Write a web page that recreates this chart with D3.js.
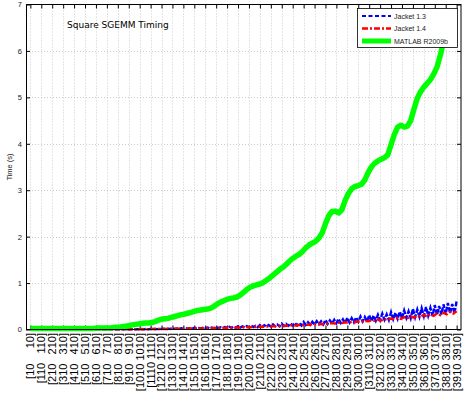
<!DOCTYPE html>
<html><head><meta charset="utf-8">
<script src="https://cdn.jsdelivr.net/npm/d3@7"></script>
<style>body{margin:0;background:#fff}svg{display:block}</style>
</head><body><svg id="c" width="474" height="393"></svg>
<script>
const tickSizes = [10,110,210,310,410,510,610,710,810,910,1010,1110,1210,1310,1410,1510,1610,1710,1810,1910,2010,2110,2210,2310,2410,2510,2610,2710,2810,2910,3010,3110,3210,3310,3410,3510,3610,3710,3810,3910];
const sampleSizes = d3.range(10, 3911, 30);   // sizes for MATLAB and Jacket 1.4 samples
const blueSizes = d3.range(10, 3911, 20);     // sizes for Jacket 1.3 samples
const yTicks = [0,1,2,3,4,5,6,7];
const seriesNames = ["Jacket 1.3","Jacket 1.4","MATLAB R2009b"];

const matlab = [0.02,0.02,0.02,0.02,0.02,0.02,0.02,0.02,0.02,0.02,
 0.02,0.02,0.02,0.02,0.02,0.02,0.02,0.02,0.02,0.02,
 0.03,0.03,0.03,0.03,0.03,0.04,0.05,0.05,0.06,0.07,
 0.08,0.10,0.11,0.12,0.13,0.14,0.14,0.15,0.17,0.20,
 0.22,0.23,0.24,0.26,0.28,0.30,0.32,0.33,0.35,0.37,
 0.39,0.41,0.42,0.43,0.44,0.46,0.50,0.55,0.59,0.62,
 0.65,0.67,0.68,0.70,0.74,0.80,0.86,0.91,0.94,0.96,
 0.98,1.01,1.06,1.11,1.17,1.23,1.29,1.34,1.40,1.47,
 1.53,1.58,1.62,1.68,1.76,1.82,1.86,1.90,1.97,2.08,
 2.28,2.45,2.54,2.55,2.51,2.58,2.78,2.93,3.03,3.08,
 3.10,3.13,3.22,3.38,3.50,3.58,3.63,3.67,3.70,3.76,
 3.98,4.20,4.36,4.40,4.36,4.38,4.50,4.75,4.98,5.12,
 5.22,5.30,5.38,5.50,5.65,5.90,6.20,6.42,6.40,6.34,
 6.32];

const jacket13 = [0.002,0.003,0.002,0.003,0.002,0.003,0.002,0.003,0.002,0.003,
 0.002,0.003,0.002,0.003,0.002,0.003,0.002,0.003,0.002,0.003,
 0.002,0.003,0.002,0.003,0.002,0.003,0.002,0.003,0.002,0.003,
 0.002,0.003,0.002,0.003,0.002,
 0.004,0.002,0.004,0.003,0.005,
 0.003,0.005,0.004,0.006,0.004,
 0.008,0.005,0.008,0.005,0.009,
 0.006,0.010,0.007,0.011,0.007,
 0.014,0.008,0.013,0.009,0.015,
 0.011,0.018,0.010,0.019,0.012,
 0.023,0.014,0.022,0.013,0.025,
 0.017,0.028,0.018,0.027,0.019,
 0.035,0.021,0.033,0.022,0.037,
 0.025,0.042,0.027,0.044,0.026,
 0.051,0.030,0.049,0.032,0.053,
 0.036,0.060,0.038,0.058,0.037,
 0.071,0.042,0.068,0.044,0.074,
 0.050,0.083,0.052,0.080,0.051,
 0.096,0.057,0.092,0.060,0.099,
 0.066,0.110,0.069,0.106,0.067,
 0.126,0.075,0.121,0.079,0.130,
 0.086,0.143,0.089,0.138,0.087,
 0.162,0.097,0.156,0.100,0.167,
 0.109,0.182,0.113,0.176,0.110,
 0.204,0.122,0.197,0.126,0.210,
 0.136,0.228,0.141,0.219,0.138,
 0.253,0.151,0.245,0.156,0.260,
 0.167,0.280,0.173,0.270,0.170,
 0.309,0.184,0.298,0.190,0.318,
 0.203,0.340,0.210,0.328,0.206,
 0.373,0.222,0.360,0.230,0.384,
 0.243,0.408,0.252,0.393,0.247,
 0.445,0.265,0.429,0.274,0.458,
 0.289,0.484,0.299,0.467,0.293,
 0.525,0.314,0.507,0.324,0.541,
 0.340,0.569,0.351,0.549,0.345,
 0.615];

const jacket14 = [0.001,0.001,0.001,0.001,0.001,0.001,0.001,0.001,0.001,0.001,0.001,0.001,
 0.002,0.002,0.002,0.002,0.002,0.002,0.002,0.002,0.002,0.003,0.003,0.003,
 0.003,0.003,0.003,0.004,0.004,0.004,0.005,0.005,0.006,0.006,
 0.007,0.007,0.008,0.009,0.009,0.010,0.011,0.012,0.013,0.014,
 0.015,0.016,0.017,0.018,0.019,0.020,0.021,0.023,0.024,0.025,
 0.027,0.028,0.030,0.031,0.033,0.035,0.037,0.038,0.040,0.042,
 0.044,0.047,0.049,0.051,0.053,0.056,0.058,0.061,0.063,0.066,
 0.069,0.071,0.074,0.077,0.080,0.083,0.090,0.086,0.096,0.093,
 0.104,0.100,0.112,0.107,0.119,0.115,0.128,0.122,0.137,0.131,
 0.146,0.140,0.155,0.148,0.165,0.158,0.176,0.167,0.187,0.178,
 0.198,0.187,0.212,0.197,0.224,0.207,0.238,0.219,0.252,0.230,
 0.266,0.243,0.281,0.255,0.297,0.268,0.312,0.281,0.327,0.296,
 0.343,0.310,0.360,0.325,0.378,0.342,0.392];

const svg = d3.select("#c");
const L = 26, R = 461, T = 4.5, B = 329.5;
const x = d3.scaleLinear().domain([-3, 395]).range([L, R]);
const y = d3.scaleLinear().domain([0, 7]).range([B, T]);
const tickIdx = tickSizes.map(s => s / 10);
const sans = "'Liberation Sans', Arial, sans-serif";

// grid
const grid = svg.append("g").attr("stroke", "#a8a8a8").attr("stroke-width", 0.6).attr("stroke-dasharray", "1,2");
grid.selectAll("line.v").data(tickIdx).join("line").attr("class","v")
  .attr("x1", d => Math.round(x(d)) + 0.5).attr("x2", d => Math.round(x(d)) + 0.5)
  .attr("y1", T).attr("y2", B);
grid.selectAll("line.h").data(yTicks.slice(1, -1)).join("line").attr("class","h")
  .attr("x1", L).attr("x2", R)
  .attr("y1", d => Math.round(y(d)) + 0.5).attr("y2", d => Math.round(y(d)) + 0.5);

// axes (ticks inward)
const ax = (g) => { g.select(".domain").remove(); g.selectAll(".tick line").attr("stroke", "#000"); };
svg.append("g").attr("transform", `translate(0,${B})`)
  .call(d3.axisBottom(x).tickValues(tickIdx).tickSize(-4).tickFormat("")).call(ax);
svg.append("g").attr("transform", `translate(0,${T})`)
  .call(d3.axisTop(x).tickValues(tickIdx).tickSize(-4).tickFormat("")).call(ax);
const yl = svg.append("g").attr("transform", `translate(${L},0)`)
  .call(d3.axisLeft(y).tickValues(yTicks).tickSize(-4).tickPadding(4).tickFormat(d3.format("d"))).call(ax);
yl.selectAll("text").attr("font-family", sans).attr("font-size", 7.5).attr("fill", "#222");
svg.append("g").attr("transform", `translate(${R},0)`)
  .call(d3.axisRight(y).tickValues(yTicks).tickSize(-4).tickFormat("")).call(ax);

// series
const line13 = d3.line().x((d, i) => x(blueSizes[i] / 10)).y(d => y(d));
const line = d3.line().x((d, i) => x(sampleSizes[i] / 10)).y(d => y(d));
svg.append("path").datum(jacket13).attr("d", line13).attr("fill", "none")
  .attr("stroke", "#0000ff").attr("stroke-width", 2.4).attr("stroke-dasharray", "5,1.5");
svg.append("path").datum(jacket14).attr("d", line).attr("fill", "none")
  .attr("stroke", "#ff0000").attr("stroke-width", 2.5).attr("stroke-dasharray", "6,2,2,2");
svg.append("path").datum(matlab).attr("d", line).attr("fill", "none")
  .attr("stroke", "#00ff00").attr("stroke-width", 5.5).attr("stroke-linejoin", "round");

// box
svg.append("rect").attr("x", L + 0.5).attr("y", T).attr("width", R - L - 0.5).attr("height", B - T)
  .attr("fill", "none").attr("stroke", "#000").attr("stroke-width", 1);

// x tick labels (rotated)
const fmt = s => { const a = String(s); return "[" + a + "\u00a0".repeat(2 * (4 - a.length) + 1) + a + "]"; };
svg.append("g").selectAll("text").data(tickSizes).join("text")
  .attr("transform", d => `translate(${x(d / 10)},${B + 3.5}) rotate(-90)`)
  .attr("text-anchor", "end").attr("dy", "0.36em")
  .attr("font-family", sans).attr("font-size", 11).attr("fill", "#000")
  .text(fmt);

// y label
svg.append("text").attr("transform", `translate(12,${(T + B) / 2}) rotate(-90)`)
  .attr("text-anchor", "middle").attr("font-family", sans).attr("font-size", 7.5).attr("fill", "#222")
  .text("Time (s)");

// title
svg.append("text").attr("x", 67).attr("y", 28).attr("font-family", "'DejaVu Sans', sans-serif")
  .attr("font-size", 9).attr("fill", "#000").text("Square SGEMM Timing");

// legend
const lg = svg.append("g");
lg.append("rect").attr("x", 357.5).attr("y", 8.5).attr("width", 100).attr("height", 39)
  .attr("fill", "#fff").attr("stroke", "#000").attr("stroke-width", 0.8);
const legStyles = [
  {c: "#0000ff", w: 2, dash: "4,2.5"},
  {c: "#ff0000", w: 2.5, dash: "6,2,2,2"},
  {c: "#00ff00", w: 5, dash: null}
];
seriesNames.forEach((n, i) => {
  const yy = 16 + i * 12.5;
  const st = legStyles[i];
  lg.append("line").attr("x1", 362).attr("x2", 391).attr("y1", yy).attr("y2", yy)
    .attr("stroke", st.c).attr("stroke-width", st.w).attr("stroke-dasharray", st.dash);
  lg.append("text").attr("x", 394).attr("y", yy + 2.5).attr("font-family", sans)
    .attr("font-size", 7).attr("fill", "#222").text(n);
});
</script></body></html>
